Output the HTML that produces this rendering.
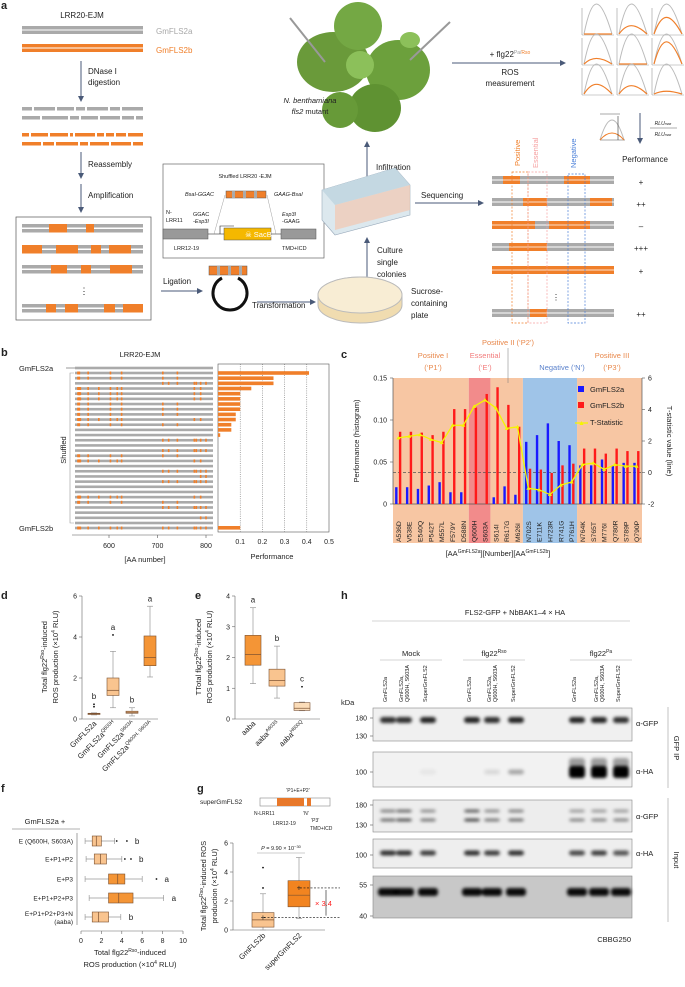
<!DOCTYPE html>
<html><head><meta charset="utf-8">
<style>
html,body{margin:0;padding:0;background:#fff;}
svg{display:block;font-family:"Liberation Sans",sans-serif;}
text{fill:#222;}
</style></head>
<body>
<svg id="fig" width="685" height="987" viewBox="0 0 685 987" xmlns="http://www.w3.org/2000/svg">
<defs>
<filter id="blur1"><feGaussianBlur stdDeviation="1.6"/></filter>
<filter id="blur2"><feGaussianBlur stdDeviation="3"/></filter>
<marker id="arr" markerWidth="6" markerHeight="6" refX="5" refY="3" orient="auto"><path d="M0,0 L6,3 L0,6 z" fill="#4a5a78"/></marker>
</defs>

<!-- ============ PANEL A ============ -->
<g>
<text x="1" y="9" font-size="11" font-weight="bold">a</text>
<text x="82" y="18" font-size="8" text-anchor="middle">LRR20-EJM</text>
<g><rect x="22" y="26" width="121" height="3.5" fill="#aaa"/><rect x="22" y="30.5" width="121" height="3.5" fill="#aaa"/></g>
<text x="156" y="34" font-size="8" style="fill:#a8a8a8">GmFLS2a</text>
<g><rect x="22" y="44" width="121" height="3.5" fill="#f07f2a"/><rect x="22" y="48.5" width="121" height="3.5" fill="#f07f2a"/></g>
<text x="156" y="53" font-size="8" style="fill:#f07f2a">GmFLS2b</text>
<line x1="81" y1="61" x2="81" y2="101" stroke="#4a5a78" stroke-width="1" marker-end="url(#arr)"/>
<text x="88" y="74" font-size="8">DNase I</text>
<text x="88" y="85" font-size="8">digestion</text>
<g fill="#aaa">
<rect x="22" y="107" width="10" height="3.5"/><rect x="34" y="107" width="21" height="3.5"/><rect x="57" y="107" width="17" height="3.5"/><rect x="76" y="107" width="9" height="3.5"/><rect x="87" y="107" width="21" height="3.5"/><rect x="110" y="107" width="10" height="3.5"/><rect x="122" y="107" width="21" height="3.5"/>
<rect x="22" y="116" width="18" height="3.5"/><rect x="42" y="116" width="26" height="3.5"/><rect x="70" y="116" width="9" height="3.5"/><rect x="81" y="116" width="17" height="3.5"/><rect x="100" y="116" width="20" height="3.5"/><rect x="122" y="116" width="12" height="3.5"/><rect x="136" y="116" width="7" height="3.5"/>
</g>
<g fill="#f07f2a">
<rect x="22" y="133" width="7" height="3.5"/><rect x="31" y="133" width="17" height="3.5"/><rect x="50" y="133" width="18" height="3.5"/><rect x="70" y="133" width="3" height="3.5"/><rect x="75" y="133" width="20" height="3.5"/><rect x="97" y="133" width="7" height="3.5"/><rect x="106" y="133" width="8" height="3.5"/><rect x="116" y="133" width="10" height="3.5"/><rect x="128" y="133" width="15" height="3.5"/>
<rect x="22" y="142" width="19" height="3.5"/><rect x="43" y="142" width="11" height="3.5"/><rect x="56" y="142" width="22" height="3.5"/><rect x="80" y="142" width="8" height="3.5"/><rect x="90" y="142" width="19" height="3.5"/><rect x="111" y="142" width="20" height="3.5"/><rect x="133" y="142" width="10" height="3.5"/>
</g>
<line x1="81" y1="152" x2="81" y2="178" stroke="#4a5a78" marker-end="url(#arr)"/>
<text x="88" y="167" font-size="8">Reassembly</text>
<line x1="81" y1="184" x2="81" y2="212" stroke="#4a5a78" marker-end="url(#arr)"/>
<text x="88" y="198" font-size="8">Amplification</text>
<rect x="16" y="217" width="135" height="103" fill="none" stroke="#555" stroke-width="0.7"/>
<g>
<rect x="22" y="224" width="121" height="3.5" fill="#aaa"/><rect x="22" y="229" width="121" height="3.5" fill="#aaa"/><rect x="49" y="224" width="18" height="8.5" fill="#f07f2a"/><rect x="86" y="224" width="8" height="8.5" fill="#f07f2a"/>
<rect x="22" y="245" width="121" height="3.5" fill="#aaa"/><rect x="22" y="250" width="121" height="3.5" fill="#aaa"/><rect x="22" y="245" width="20" height="8.5" fill="#f07f2a"/><rect x="56" y="245" width="22" height="8.5" fill="#f07f2a"/><rect x="91" y="245" width="10" height="8.5" fill="#f07f2a"/><rect x="109" y="245" width="22" height="8.5" fill="#f07f2a"/>
<rect x="22" y="265" width="121" height="3.5" fill="#aaa"/><rect x="22" y="270" width="121" height="3.5" fill="#aaa"/><rect x="51" y="265" width="16" height="8.5" fill="#f07f2a"/><rect x="81" y="265" width="10" height="8.5" fill="#f07f2a"/><rect x="110" y="265" width="22" height="8.5" fill="#f07f2a"/>
<text x="84" y="294" font-size="9" text-anchor="middle">⋮</text>
<rect x="22" y="304" width="121" height="3.5" fill="#aaa"/><rect x="22" y="309" width="121" height="3.5" fill="#aaa"/><rect x="46" y="304" width="10" height="8.5" fill="#f07f2a"/><rect x="65" y="304" width="13" height="8.5" fill="#f07f2a"/><rect x="104" y="304" width="11" height="8.5" fill="#f07f2a"/><rect x="123" y="304" width="20" height="8.5" fill="#f07f2a"/>
</g>
<rect x="163" y="164" width="161" height="94" fill="#fff" stroke="#666" stroke-width="0.7"/>
<g font-size="5.5">
<text x="245" y="178" text-anchor="middle">Shuffled LRR20 -EJM</text>
<rect x="226" y="191" width="40" height="7" fill="#f07f2a" stroke="#555" stroke-width="0.5"/><rect x="232" y="191" width="3" height="7" fill="#aaa"/><rect x="243" y="191" width="3" height="7" fill="#aaa"/><rect x="254" y="191" width="3" height="7" fill="#aaa"/>
<text x="185" y="196" font-style="italic">BsaI-GGAC</text><text x="274" y="196" font-style="italic">GAAG-BsaI</text>
<text x="166" y="214">N-</text><text x="166" y="222">LRR11</text>
<text x="193" y="216">GGAC</text><text x="193" y="223" font-style="italic">-Esp3I</text>
<text x="282" y="216" font-style="italic">Esp3I</text><text x="282" y="223">-GAAG</text>
<rect x="163" y="229" width="45" height="10" fill="#999" stroke="#555" stroke-width="0.5"/>
<rect x="224" y="228" width="47" height="12" fill="#f5b800" stroke="#555" stroke-width="0.5"/><text x="245" y="237" font-size="7.5" style="fill:#fff">☠ SacB</text>
<rect x="281" y="229" width="35" height="10" fill="#999" stroke="#555" stroke-width="0.5"/>
<line x1="208" y1="234" x2="224" y2="234" stroke="#333" stroke-width="0.6"/><line x1="271" y1="234" x2="281" y2="234" stroke="#333" stroke-width="0.6"/>
<path d="M220,234 v-8 h14" fill="none" stroke="#222" stroke-width="0.6"/>
<line x1="214" y1="234" x2="225" y2="195" stroke="#888" stroke-width="0.4"/><line x1="276" y1="234" x2="267" y2="195" stroke="#888" stroke-width="0.4"/>
<text x="174" y="250">LRR12-19</text><text x="282" y="250">TMD+ICD</text>
</g>
<text x="163" y="284" font-size="8">Ligation</text>
<line x1="161" y1="291" x2="202" y2="291" stroke="#4a5a78" marker-end="url(#arr)"/>
<g>
<rect x="209" y="266" width="38" height="9" fill="#f07f2a" stroke="#555" stroke-width="0.5"/><rect x="217" y="266" width="3" height="9" fill="#aaa"/><rect x="228" y="266" width="3" height="9" fill="#aaa"/><rect x="239" y="266" width="3" height="9" fill="#aaa"/>
<path d="M222,278 A17,17 0 1 0 238,278" fill="none" stroke="#111" stroke-width="3"/>
</g>
<line x1="257" y1="302" x2="315" y2="302" stroke="#4a5a78" marker-end="url(#arr)"/>
<text x="252" y="308" font-size="8">Transformation</text>

<g>
<ellipse cx="333" cy="62" rx="36" ry="30" fill="#6a9a3a"/><ellipse cx="398" cy="70" rx="32" ry="30" fill="#6ca03c"/>
<ellipse cx="358" cy="26" rx="24" ry="24" fill="#74a844"/><ellipse cx="375" cy="108" rx="26" ry="24" fill="#5f9232"/>
<ellipse cx="340" cy="110" rx="18" ry="18" fill="#679a38"/>
<ellipse cx="360" cy="65" rx="14" ry="14" fill="#8cc05a"/><ellipse cx="410" cy="40" rx="10" ry="8" fill="#8cc05a"/>
<line x1="290" y1="18" x2="325" y2="62" stroke="#999" stroke-width="2"/><line x1="450" y1="22" x2="410" y2="60" stroke="#999" stroke-width="2"/>
<text x="310" y="103" font-size="7.5" font-style="italic" text-anchor="middle">N. benthamiana</text>
<text x="310" y="114" font-size="7.5" text-anchor="middle"><tspan font-style="italic">fls2</tspan> mutant</text>
</g>
<line x1="452" y1="63" x2="565" y2="63" stroke="#4a5a78" marker-end="url(#arr)"/>
<text x="510" y="57" font-size="8" text-anchor="middle">+ flg22<tspan font-size="5" dy="-3" style="fill:#999">Pa</tspan><tspan font-size="5" style="fill:#999">/</tspan><tspan font-size="5" style="fill:#f07f2a">Rso</tspan></text>
<text x="510" y="75" font-size="8" text-anchor="middle">ROS</text>
<text x="510" y="86" font-size="8" text-anchor="middle">measurement</text>
<g id="rosgrid"></g>
<g>
<line x1="600" y1="114" x2="620" y2="114" stroke="#555" stroke-width="0.5"/><line x1="600" y1="140" x2="625" y2="140" stroke="#555" stroke-width="0.5"/>
<path d="M600,140 Q612,100 624,140" fill="none" stroke="#bbb"/><path d="M600,140 Q612,126 624,140" fill="none" stroke="#f07f2a"/>
<line x1="618" y1="140" x2="618" y2="116" stroke="#333" stroke-width="0.6"/>
<line x1="640" y1="113" x2="640" y2="143" stroke="#4a5a78" marker-end="url(#arr)"/>
<text x="663" y="125" font-size="5" font-style="italic" text-anchor="middle">RLU<tspan font-size="3.5">max</tspan></text>
<line x1="650" y1="128" x2="677" y2="128" stroke="#333" stroke-width="0.4"/>
<text x="663" y="136" font-size="5" font-style="italic" text-anchor="middle">RLU<tspan font-size="3.5">max</tspan></text>
<text x="645" y="162" font-size="8" text-anchor="middle">Performance</text>
</g>
<line x1="367" y1="198" x2="367" y2="142" stroke="#4a5a78" marker-end="url(#arr)"/>
<text x="376" y="170" font-size="8">Infiltration</text>
<g>
<path d="M322,190 L395,168 L410,185 L410,215 L335,235 L322,220 z" fill="#dce8ee" stroke="#9ab" stroke-width="0.6"/>
<path d="M322,190 L395,168 L410,185 L335,205 z" fill="#c4d8e2"/>
<path d="M335,205 L410,185 L410,210 L335,230 z" fill="#f2c8b0" opacity="0.7"/>
</g>
<line x1="415" y1="203" x2="483" y2="203" stroke="#4a5a78" marker-end="url(#arr)"/>
<text x="421" y="198" font-size="8">Sequencing</text>
<line x1="367" y1="290" x2="367" y2="238" stroke="#4a5a78" marker-end="url(#arr)"/>
<text x="377" y="253" font-size="8">Culture</text>
<text x="377" y="265" font-size="8">single</text>
<text x="377" y="277" font-size="8">colonies</text>
<g><ellipse cx="360" cy="295" rx="42" ry="18" fill="#f6e8c8" stroke="#bbb"/><path d="M318,295 v10 a42,18 0 0 0 84,0 v-10" fill="#f0dcb0" stroke="#bbb"/><ellipse cx="360" cy="295" rx="42" ry="18" fill="#f8edd4" stroke="#bbb"/></g>
<text x="411" y="294" font-size="8">Sucrose-</text>
<text x="411" y="306" font-size="8">containing</text>
<text x="411" y="318" font-size="8">plate</text>
<g id="seqrows"></g>
<g fill="none" stroke-dasharray="2,1.5" stroke-width="0.7">
<rect x="512" y="172" width="16" height="151" stroke="#f07f2a"/>
<rect x="528" y="172" width="19" height="151" stroke="#f6a0a0"/>
<rect x="568" y="174" width="17" height="149" stroke="#4a7fd8"/>
<text x="520" y="166" font-size="7.5" transform="rotate(-90 520 166)" style="fill:#f07f2a" stroke="none">Positive</text>
<text x="538" y="168" font-size="7.5" transform="rotate(-90 538 168)" style="fill:#f6a0a0" stroke="none">Essential</text>
<text x="576" y="168" font-size="7.5" transform="rotate(-90 576 168)" style="fill:#4a7fd8" stroke="none">Negative</text>
</g>
<g font-size="8" text-anchor="middle">
<text x="641" y="185">+</text><text x="641" y="207">++</text><text x="641" y="229">–</text><text x="641" y="251">+++</text><text x="641" y="274">+</text><text x="556" y="300">⋮</text><text x="641" y="317">++</text>
</g>
</g>

<!-- ============ PANEL B ============ -->
<g id="panelb">
<text x="1" y="356" font-size="11" font-weight="bold">b</text>
<text x="140" y="357" font-size="7.5" text-anchor="middle">LRR20-EJM</text>
<text x="19" y="371" font-size="7.5">GmFLS2a</text>
<text x="19" y="531" font-size="7.5">GmFLS2b</text>
<text x="66" y="450" font-size="7.5" text-anchor="middle" transform="rotate(-90 66 450)">Shuffled</text>
<path d="M74,373 H70 V523 H74" fill="none" stroke="#999" stroke-width="0.6"/>
<text x="145" y="562" font-size="7.5" text-anchor="middle">[AA number]</text>
<text x="272" y="559" font-size="7.5" text-anchor="middle">Performance</text>
</g>

<!-- ============ PANEL C ============ -->
<g id="panelc">
<text x="341" y="358" font-size="11" font-weight="bold">c</text>
</g>

<!-- ============ PANELS D-G ============ -->
<g id="paneldg">
<text x="1" y="599" font-size="11" font-weight="bold">d</text>
<text x="195" y="599" font-size="11" font-weight="bold">e</text>
<text x="1" y="792" font-size="11" font-weight="bold">f</text>
<text x="197" y="792" font-size="11" font-weight="bold">g</text>
</g>

<!-- ============ PANEL H ============ -->
<g id="panelh">
<text x="341" y="599" font-size="11" font-weight="bold">h</text>
<text x="515" y="615" font-size="7.5" text-anchor="middle">FLS2-GFP + NbBAK1–4 × HA</text>
<line x1="372" y1="621" x2="630" y2="621" stroke="#aaa" stroke-width="0.6"/>
<text x="411" y="656" font-size="7.5" text-anchor="middle">Mock</text>
<text x="494" y="656" font-size="7.5" text-anchor="middle">flg22<tspan font-size="5" dy="-3">Rso</tspan></text>
<text x="601" y="656" font-size="7.5" text-anchor="middle">flg22<tspan font-size="5" dy="-3">Pa</tspan></text>
<line x1="380" y1="660" x2="442" y2="660" stroke="#aaa" stroke-width="0.6"/><line x1="463" y1="660" x2="525" y2="660" stroke="#aaa" stroke-width="0.6"/><line x1="570" y1="660" x2="632" y2="660" stroke="#aaa" stroke-width="0.6"/>
<text x="341" y="705" font-size="7.5">kDa</text>
<line x1="668" y1="707" x2="668" y2="788" stroke="#aaa" stroke-width="0.7"/>
<line x1="668" y1="798" x2="668" y2="922" stroke="#aaa" stroke-width="0.7"/>
<text x="674" y="748" font-size="7.5" text-anchor="middle" transform="rotate(90 674 748)">GFP IP</text>
<text x="674" y="860" font-size="7.5" text-anchor="middle" transform="rotate(90 674 860)">Input</text>
<text x="631" y="942" font-size="7.5" text-anchor="end">CBBG250</text>
</g>

</svg>
<script>
const NS="http://www.w3.org/2000/svg";
function el(tag,a,p){const e=document.createElementNS(NS,tag);for(const k in a)e.setAttribute(k,a[k]);p.appendChild(e);return e;}
function tx(s,a,p){const e=el('text',a,p);e.textContent=s;return e;}

/* ---------- Panel a: ROS grid & sequencing rows ---------- */
const rosAmps=[0,0.3,0.6,0.2,0,0.8,0.35,0.3,0.1];
(function(){
 const g=document.getElementById('rosgrid');
 rosAmps.forEach((amp,i)=>{
  const c=i%3,r=Math.floor(i/3);const x=582+c*35,y=8+r*30,w=32,h=27;
  const box=el('g',{},g);
  
  
  el('line',{x1:x,y1:y+h,x2:x+w,y2:y+h,stroke:'#999','stroke-width':0.6},box);
  el('line',{x1:x,y1:y,x2:x,y2:y+h,stroke:'#999','stroke-width':0.6},box);
  el('path',{d:`M${x+2},${y+h-1} C${x+10},${y-14} ${x+18},${y-14} ${x+w-2},${y+h-1}`,fill:'none',stroke:'#bbb','stroke-width':1},box);
  const top=y+h-1-amp*(h+10);
  el('path',{d:`M${x+2},${y+h-1} C${x+10},${top} ${x+18},${top} ${x+w-2},${y+h-1}`,fill:'none',stroke:'#f07f2a','stroke-width':1.2},box);
 });
})();
const seqRowsY=[180,202,225,247,270,313];
const seqOrange=[[[503,520],[564,590]],[[523,547],[590,612]],[[492,535],[549,590]],[[509,547]],[[492,614]],[[530,547]]];
(function(){
 const g=document.getElementById('seqrows');
 seqRowsY.forEach((y,i)=>{
  const r=el('g',{},g);
  
  
  el('rect',{x:492,y:y-4,width:122,height:3.5,fill:'#aaa'},r);
  el('rect',{x:492,y:y+0.5,width:122,height:3.5,fill:'#aaa'},r);
  seqOrange[i].forEach(s=>{el('rect',{x:s[0],y:y-4,width:s[1]-s[0],height:8,fill:'#f07f2a'},r);el('line',{x1:s[0],y1:y,x2:s[1],y2:y,stroke:'#fff','stroke-width':0.8},r);});
 });
})();

/* ---------- Panel b ---------- */
const bPerf=[0.41,0.25,0.25,0.15,0.1,0.1,0.1,0.1,0.08,0.08,0.06,0.06,0.01,0,0,0,0,0,0,0,0,0,0,0,0,0,0,0,0,0];
const bGmFLS2bPerf=0.1;
const bLeftMarks=[536,538,557,579,603,617,626];
const bRightMarks=[711,723,741,776,780,789,800];
const bRowPattern=[3,3,2,1,1,1,3,3,3,1,3,0,0,2,0,2,3,1,0,2,4,2,0,0,1,3,2,0,4,0];
const bAxisTicks=[600,700,800];
const bPerfTicks=[0.1,0.2,0.3,0.4,0.5];
(function(){
 const g=document.getElementById('panelb');
 const xA=a=>109+(a-600)*0.485;
 const xP=v=>218+v*222;
 const yRow=i=>373+i*(150/29);
 el('rect',{x:218,y:364,width:111,height:168,fill:'none',stroke:'#555','stroke-width':0.6},g);
 bPerfTicks.forEach(t=>{
  if(t<0.5) el('line',{x1:xP(t),y1:364,x2:xP(t),y2:532,stroke:'#555','stroke-width':0.5,'stroke-dasharray':'1,1.2'},g);
  const tk=tx(String(t),{x:xP(t),y:544,'font-size':7,'text-anchor':'middle'},g);
  
  
 });
 el('line',{x1:72,y1:535,x2:213,y2:535,stroke:'#555','stroke-width':0.6},g);
 bAxisTicks.forEach(t=>{
  el('line',{x1:xA(t),y1:535,x2:xA(t),y2:538,stroke:'#555','stroke-width':0.6},g);
  const tk=tx(String(t),{x:xA(t),y:548,'font-size':7,'text-anchor':'middle'},g);
  
  
 });
 function row(y,marks,full){
  const r=el('g',{},g);
  
  
  el('rect',{x:75,y:y-1.3,width:138,height:2.6,fill:'#aaa'},r);
  marks.forEach(a=>el('rect',{x:xA(a)-0.8,y:y-1.5,width:a<540?3:1.6,height:3,fill:'#f07f2a'},r));
 }
 row(368,[],false);
 el('line',{x1:66,y1:368,x2:75,y2:368,stroke:'#555','stroke-width':0.6},g);
 bRowPattern.forEach((p,i)=>{
  let m=[];
  if(p==1) m=bLeftMarks.concat([776,789]);
  else if(p==2) m=bRightMarks;
  else if(p==3) m=[536,557,603,626,711,741];
  else if(p==4) m=[789,800];
  row(yRow(i),m,false);
 });
 row(528,bLeftMarks.concat(bRightMarks),true);
 bPerf.forEach((v,i)=>{
  if(v<=0) return;
  const b=el('rect',{x:xP(0),y:yRow(i)-1.8,width:v*222,height:3.6,fill:'#f07f2a'},g);
  
  
 });
 const bb=el('rect',{x:xP(0),y:526,width:bGmFLS2bPerf*222,height:3.6,fill:'#f07f2a'},g);
 
 
})();

/* ---------- Panel c ---------- */
const cCats=["A536D","V538E","E540Q","P542T","M557L","F579Y","D588N","Q600H","S603A","S614I","R617G","M626I","N702S","E711K","H723R","R741G","P761H","N764K","S765T","M776I","Q780R","S789P","Q790P"];
const cGmFLS2a=[0.02,0.02,0.018,0.022,0.026,0.014,0.014,0,0,0.008,0.021,0.011,0.074,0.082,0.096,0.075,0.07,0.046,0.046,0.053,0.046,0.049,0.049];
const cGmFLS2b=[0.086,0.086,0.085,0.082,0.086,0.113,0.113,0.115,0.131,0.139,0.118,0.092,0.042,0.041,0.037,0.046,0.048,0.066,0.066,0.06,0.066,0.063,0.063];
const cTstat=[2.2,2.3,2.4,2.1,1.9,3.0,3.0,4.2,4.6,4.1,2.8,2.9,-1.0,-1.1,-1.4,-0.8,-0.6,0.5,0.6,0.2,0.5,0.4,0.4];
const cLeftTicks=[0,0.05,0.10,0.15];
const cLeftTickLabels=["0","0.05","0.10","0.15"];
const cRightTicks=[-2,0,2,4,6];
(function(){
 const g=document.getElementById('panelc');
 const X0=393,X1=642,Y0=504,Y1=378,n=cCats.length,step=(X1-X0)/n;
 const xC=i=>X0+(i+0.5)*step;
 const yL=v=>Y0-(v/0.15)*(Y0-Y1);
 const yR=t=>Y0-((t+2)/8)*(Y0-Y1);
 const bands=[[0,7,'#f7c6a3'],[7,9,'#f28b8b'],[9,12,'#f7c6a3'],[12,17,'#9fc4e8'],[17,23,'#f7c6a3']];
 bands.forEach(b=>{
  const r=el('rect',{x:X0+b[0]*step,y:Y1,width:(b[1]-b[0])*step,height:543-Y1,fill:b[2]},g);
  
  
 });
 el('line',{x1:X0,y1:Y1,x2:X0,y2:Y0,stroke:'#555','stroke-width':0.7},g);
 el('line',{x1:X1,y1:Y1,x2:X1,y2:Y0,stroke:'#555','stroke-width':0.7},g);
 el('line',{x1:X0,y1:Y0,x2:X1,y2:Y0,stroke:'#555','stroke-width':0.7},g);
 el('line',{x1:X0,y1:yR(0),x2:X1,y2:yR(0),stroke:'#555','stroke-width':0.7,'stroke-dasharray':'3,2'},g);
 cLeftTicks.forEach((t,i)=>{
  el('line',{x1:X0-3,y1:yL(t),x2:X0,y2:yL(t),stroke:'#555','stroke-width':0.6},g);
  const tk=tx(cLeftTickLabels[i],{x:X0-6,y:yL(t)+2.5,'font-size':7,'text-anchor':'end'},g);
  
  
 });
 cRightTicks.forEach(t=>{
  el('line',{x1:X1,y1:yR(t),x2:X1+3,y2:yR(t),stroke:'#555','stroke-width':0.6},g);
  const tk=tx(String(t),{x:X1+6,y:yR(t)+2.5,'font-size':7},g);
  
  
 });
 cCats.forEach((c,i)=>{
  if(cGmFLS2a[i]>0){
   const b=el('rect',{x:xC(i)-3.3,y:yL(cGmFLS2a[i]),width:2.4,height:Y0-yL(cGmFLS2a[i]),fill:'#1a1aff'},g);
   
   
  }
  const r=el('rect',{x:xC(i)+0.5,y:yL(cGmFLS2b[i]),width:2.4,height:Y0-yL(cGmFLS2b[i]),fill:'#ff1a1a'},g);
  
  
  const lb=tx(c,{x:0,y:0,'font-size':6.8,transform:`translate(${xC(i)+2.5},542) rotate(-90)`},g);
  
  
 });
 const pts=cTstat.map((t,i)=>xC(i)+','+yR(t)).join(' ');
 const ln=el('polyline',{points:pts,fill:'none',stroke:'#f5f500','stroke-width':1.3},g);
 
 
 cTstat.forEach((t,i)=>{
  const m=el('path',{d:`M${xC(i)-2},${yR(t)+1.5} L${xC(i)},${yR(t)-2} L${xC(i)+2},${yR(t)+1.5} z`,fill:'#f5f500'},g);
  
  
 });
 const lg=el('g',{},g);
 
 
 el('rect',{x:578,y:386,width:6,height:6,fill:'#1a1aff'},lg);tx('GmFLS2a',{x:590,y:392,'font-size':7.5},lg);
 el('rect',{x:578,y:402,width:6,height:6,fill:'#ff1a1a'},lg);tx('GmFLS2b',{x:590,y:408,'font-size':7.5},lg);
 el('line',{x1:575,y1:423,x2:588,y2:423,stroke:'#f5f500','stroke-width':1.3},lg);
 el('path',{d:'M579.5,425 L581.5,421 L583.5,425 z',fill:'#f5f500'},lg);
 tx('T-Statistic',{x:590,y:425,'font-size':7.5},lg);
 const titles=[["Positive I",433,358,'#e8874a'],["(‘P1’)",433,370,'#e8874a'],["Essential",485,358,'#f27c7c'],["(‘E’)",485,370,'#f27c7c'],["Positive II (‘P2’)",508,345,'#e8874a'],["Negative (‘N’)",562,370,'#5b82cc'],["Positive III",612,358,'#e8874a'],["(‘P3’)",612,370,'#e8874a']];
 titles.forEach(t=>{const e=tx(t[0],{x:t[1],y:t[2],'font-size':7.5,'text-anchor':'middle',style:'fill:'+t[3]},g);
  
  });
 el('line',{x1:508,y1:348,x2:508,y2:383,stroke:'#777','stroke-width':0.5},g);
 const yt=tx('Performance (histogram)',{x:0,y:0,'font-size':7.5,'text-anchor':'middle',transform:'translate(359,441) rotate(-90)'},g);
 
 
 const yt2=tx('T-statistic value (line)',{x:0,y:0,'font-size':7.5,'text-anchor':'middle',transform:'translate(667,441) rotate(90)'},g);
 
 
 const xt=el('text',{x:498,y:556,'font-size':7.5,'text-anchor':'middle'},g);
 xt.innerHTML='[AA<tspan font-size="5" dy="-3">GmFLS2a</tspan><tspan dy="3">][Number][AA</tspan><tspan font-size="5" dy="-3">GmFLS2b</tspan><tspan dy="3">]</tspan>';
 
 
})();

/* ---------- Panels d-g ---------- */
const dNames=["GmFLS2a","GmFLS2a","GmFLS2a","GmFLS2a"];
const dSups=["","Q600H","S603A","Q600H, S603A"];
const dStats=[[0.2,0.22,0.25,0.28,0.3],[0.55,1.15,1.4,2.0,3.3],[0.15,0.28,0.33,0.38,0.55],[2.05,2.6,3.0,4.05,5.5]];
const dOutliers=[[0.6,0.72],[4.1],[],[]];
const dLetters=["b","a","b","a"];
const eNames=["aaba","aaba","aaba"];
const eSups=["","A603S","H600Q"];
const eStats=[[1.15,1.75,2.1,2.72,3.62],[0.68,1.07,1.25,1.62,2.37],[0.27,0.28,0.35,0.53,0.55]];
const eOutliers=[[],[],[1.05]];
const eLetters=["a","b","c"];
const fNames=["E (Q600H, S603A)","E+P1+P2","E+P3","E+P1+P2+P3","E+P1+P2+P3+N"];
const fStats=[[0.4,1.1,1.5,2.0,3.3],[0.5,1.3,1.9,2.5,4.0],[0.4,2.7,3.6,4.3,6.0],[0.8,2.7,3.7,5.1,8.1],[0.4,1.1,1.7,2.7,3.9]];
const fOutliers=[[3.5,4.5],[4.3,4.9],[7.4],[],[]];
const fLetters=["b","b","a","a","b"];
const gNames=["GmFLS2b","superGmFLS2"];
const gStats=[[0.0,0.2,0.7,1.2,2.5],[0.8,1.6,2.4,3.4,5.0]];
const gMeans=[0.85,2.9];
const gOutliers=[[2.9,4.3],[]];
(function(){
 const g=document.getElementById('paneldg');
 const BR='#7a5030';
 function vbox(x,s,ys,fill,w,outs){
  const b=el('g',{},g);
  
  
  el('line',{x1:x,y1:ys(s[0]),x2:x,y2:ys(s[4]),stroke:'#999','stroke-width':0.7},b);
  el('line',{x1:x-3,y1:ys(s[4]),x2:x+3,y2:ys(s[4]),stroke:'#999','stroke-width':0.7},b);
  el('line',{x1:x-3,y1:ys(s[0]),x2:x+3,y2:ys(s[0]),stroke:'#999','stroke-width':0.7},b);
  el('rect',{x:x-w/2,y:ys(s[3]),width:w,height:Math.max(1,ys(s[1])-ys(s[3])),fill:fill,stroke:BR,'stroke-width':0.6},b);
  el('line',{x1:x-w/2,y1:ys(s[2]),x2:x+w/2,y2:ys(s[2]),stroke:BR,'stroke-width':0.7},b);
  outs.forEach((o,k)=>el('circle',{cx:x,cy:ys(o),r:0.9,fill:'#111'},b));
  return b;
 }
 function axisV(x,yb,yt,ticks,ys){
  el('line',{x1:x,y1:yt,x2:x,y2:yb,stroke:'#666','stroke-width':0.6},g);
  ticks.forEach(t=>{el('line',{x1:x-3,y1:ys(t),x2:x,y2:ys(t),stroke:'#666','stroke-width':0.6},g);
   const k=tx(String(t),{x:x-5,y:ys(t)+2.5,'font-size':7,'text-anchor':'end'},g);
   
   });
 }
 const yd=v=>719-v/6*123;
 axisV(82,719,596,[0,2,4,6],yd);
 el('line',{x1:82,y1:719,x2:158,y2:719,stroke:'#666','stroke-width':0.6},g);
 const dX=[94,113,132,150];const dFill=['#f9cfa0','#f9c48f','#f9c48f','#f49536'];
 dStats.forEach((s,i)=>{vbox(dX[i],s,yd,dFill[i],12,dOutliers[i]);
  const mx=Math.max(s[4],...(dOutliers[i].length?dOutliers[i]:[0]));
  const l=tx(dLetters[i],{x:dX[i],y:yd(mx)-5,'font-size':8,'text-anchor':'middle'},g);
  
  
  const n=el('text',{x:0,y:0,'font-size':7.5,'text-anchor':'end',transform:`translate(${dX[i]+3},724) rotate(-45)`},g);
  n.innerHTML=dNames[i]+'<tspan font-size="5" dy="-3">'+dSups[i]+'</tspan>';
  
  });
 tx('',{x:0,y:0,'font-size':7.5,'text-anchor':'middle',transform:'translate(47,657) rotate(-90)'},g).innerHTML='Total flg22<tspan font-size="5" dy="-3">Rso</tspan><tspan dy="3">-induced</tspan>';
 tx('',{x:0,y:0,'font-size':7.5,'text-anchor':'middle',transform:'translate(58,657) rotate(-90)'},g).innerHTML='ROS production (×10<tspan font-size="5" dy="-3">4</tspan><tspan dy="3"> RLU)</tspan>';
 const ye=v=>719-v/4*123;
 axisV(235,719,596,[0,1,2,3,4],ye);
 el('line',{x1:235,y1:719,x2:320,y2:719,stroke:'#666','stroke-width':0.6},g);
 const eX=[253,277,302];const eFill=['#f49536','#f9c48f','#fbdcb8'];
 eStats.forEach((s,i)=>{vbox(eX[i],s,ye,eFill[i],16,eOutliers[i]);
  const l=tx(eLetters[i],{x:eX[i],y:ye(Math.max(s[4],...(eOutliers[i].length?eOutliers[i]:[0])))-5,'font-size':8,'text-anchor':'middle'},g);
  
  
  const n=el('text',{x:0,y:0,'font-size':7.5,'text-anchor':'end',transform:`translate(${eX[i]+3},724) rotate(-45)`},g);
  n.innerHTML=eNames[i]+'<tspan font-size="5" dy="-3">'+eSups[i]+'</tspan>';
  
  });
 tx('',{x:0,y:0,'font-size':7.5,'text-anchor':'middle',transform:'translate(201,657) rotate(-90)'},g).innerHTML='TTotal flg22<tspan font-size="5" dy="-3">Rso</tspan><tspan dy="3">-induced</tspan>';
 tx('',{x:0,y:0,'font-size':7.5,'text-anchor':'middle',transform:'translate(212,657) rotate(-90)'},g).innerHTML='ROS production (×10<tspan font-size="5" dy="-3">4</tspan><tspan dy="3"> RLU)</tspan>';
 const xf=v=>81+v/10*102;
 const fY=[841,859,879,898,917];const fFill=['#f9c48f','#f9c48f','#f49536','#f49536','#f9c48f'];
 tx('GmFLS2a +',{x:45,y:824,'font-size':7.5,'text-anchor':'middle'},g);
 el('line',{x1:12,y1:829,x2:80,y2:829,stroke:'#666','stroke-width':0.6},g);
 el('line',{x1:77,y1:833,x2:77,y2:925,stroke:'#666','stroke-width':0.6},g);
 el('line',{x1:81,y1:931,x2:183,y2:931,stroke:'#666','stroke-width':0.6},g);
 [0,2,4,6,8,10].forEach(t=>{el('line',{x1:xf(t),y1:931,x2:xf(t),y2:934,stroke:'#666','stroke-width':0.6},g);
  const k=tx(String(t),{x:xf(t),y:943,'font-size':7,'text-anchor':'middle'},g);
  
  });
 fStats.forEach((s,i)=>{
  const y=fY[i];const b=el('g',{},g);
  
  
  el('line',{x1:xf(s[0]),y1:y,x2:xf(s[4]),y2:y,stroke:'#999','stroke-width':0.7},b);
  el('line',{x1:xf(s[0]),y1:y-3,x2:xf(s[0]),y2:y+3,stroke:'#999','stroke-width':0.7},b);
  el('line',{x1:xf(s[4]),y1:y-3,x2:xf(s[4]),y2:y+3,stroke:'#999','stroke-width':0.7},b);
  el('rect',{x:xf(s[1]),y:y-5,width:xf(s[3])-xf(s[1]),height:10,fill:fFill[i],stroke:BR,'stroke-width':0.6},b);
  el('line',{x1:xf(s[2]),y1:y-5,x2:xf(s[2]),y2:y+5,stroke:BR,'stroke-width':0.7},b);
  fOutliers[i].forEach(o=>el('circle',{cx:xf(o),cy:y,r:0.9,fill:'#111'},b));
  const mx=Math.max(s[4],...(fOutliers[i].length?fOutliers[i]:[0]));
  const l=tx(fLetters[i],{x:xf(mx)+8,y:y+3,'font-size':8},g);
  
  
  const n=tx(fNames[i],{x:73,y:i==4?y-1:y+2.5,'font-size':6.5,'text-anchor':'end'},g);
  
  
 });
 tx('(aaba)',{x:73,y:924,'font-size':6.5,'text-anchor':'end'},g);
 tx('',{x:130,y:955,'font-size':7.5,'text-anchor':'middle'},g).innerHTML='Total flg22<tspan font-size="5" dy="-3">Rso</tspan><tspan dy="3">-induced</tspan>';
 tx('',{x:130,y:967,'font-size':7.5,'text-anchor':'middle'},g).innerHTML='ROS production (×10<tspan font-size="5" dy="-3">4</tspan><tspan dy="3"> RLU)</tspan>';
 const yg=v=>930-v/6*87;
 axisV(233,930,843,[0,2,4,6],yg);
 el('line',{x1:233,y1:930,x2:325,y2:930,stroke:'#666','stroke-width':0.6},g);
 const gX=[263,299];const gFill=['#f9c48f','#f28420'];
 gStats.forEach((s,i)=>{vbox(gX[i],s,yg,gFill[i],22,gOutliers[i]);
  tx('+',{x:gX[i],y:yg(gMeans[i])+2.5,'font-size':8,'text-anchor':'middle'},g);
  const n=tx(gNames[i],{x:0,y:0,'font-size':7.5,'text-anchor':'end',transform:`translate(${gX[i]+3},936) rotate(-45)`},g);
  
  });
 el('line',{x1:264,y1:yg(gMeans[0]),x2:340,y2:yg(gMeans[0]),stroke:'#111','stroke-width':0.6,'stroke-dasharray':'2,1.5'},g);
 el('line',{x1:300,y1:yg(gMeans[1]),x2:340,y2:yg(gMeans[1]),stroke:'#111','stroke-width':0.6,'stroke-dasharray':'2,1.5'},g);
 el('line',{x1:326,y1:yg(gMeans[1])+2,x2:326,y2:yg(gMeans[0])-2,stroke:'#111','stroke-width':0.6},g);
 tx('× 3.4',{x:315,y:906,'font-size':7.5,style:'fill:#ff2020'},g);
 el('line',{x1:257,y1:853,x2:305,y2:853,stroke:'#999','stroke-width':0.6},g);
 tx('',{x:281,y:850,'font-size':5.5,'text-anchor':'middle'},g).innerHTML='<tspan font-style="italic">P</tspan> = 9.90 × 10<tspan font-size="4" dy="-2">−30</tspan>';
 tx('',{x:0,y:0,'font-size':7.5,'text-anchor':'middle',transform:'translate(206,886) rotate(-90)'},g).innerHTML='Total flg22<tspan font-size="5" dy="-3">Rso</tspan><tspan dy="3">-induced ROS</tspan>';
 tx('',{x:0,y:0,'font-size':7.5,'text-anchor':'middle',transform:'translate(217,886) rotate(-90)'},g).innerHTML='production (×10<tspan font-size="5" dy="-3">4</tspan><tspan dy="3"> RLU)</tspan>';
 tx('superGmFLS2',{x:200,y:804,'font-size':6.5},g);
 el('rect',{x:260,y:798,width:70,height:8,fill:'#fff',stroke:'#888','stroke-width':0.6},g);
 el('rect',{x:277,y:798,width:27,height:8,fill:'#e8782a'},g);
 el('rect',{x:307,y:798,width:4,height:8,fill:'#e8782a'},g);
 tx('‘P1+E+P2’',{x:298,y:792,'font-size':5,'text-anchor':'middle'},g);
 tx('N-LRR11',{x:254,y:815,'font-size':5},g);tx('LRR12-19',{x:273,y:825,'font-size':5},g);
 tx('‘N’',{x:303,y:815,'font-size':5},g);tx('‘P3’',{x:311,y:822,'font-size':5},g);tx('TMD+ICD',{x:310,y:830,'font-size':5},g);
})();

/* ---------- Panel h ---------- */
const hLaneX=[388,404,428,472,492,516,577,599,621];
const hLaneNames=["GmFLS2a","GmFLS2a, Q600H, S603A","SuperGmFLS2","GmFLS2a","GmFLS2a, Q600H, S603A","SuperGmFLS2","GmFLS2a","GmFLS2a, Q600H, S603A","SuperGmFLS2"];
const hIpGfp=[0.8,0.8,0.85,0.85,0.8,0.85,0.85,0.85,0.8];
const hIpHa=[0,0,0.05,0,0.1,0.3,1,1,1];
const hInGfp=[0.45,0.55,0.4,0.6,0.4,0.45,0.35,0.35,0.35];
const hInHa=[0.8,0.8,0.75,0.8,0.75,0.8,0.7,0.75,0.65];
const hMarkers=[[180,718],[130,736],[100,772],[180,805],[130,825],[100,855],[55,885],[40,916]];
(function(){
 const g=document.getElementById('panelh');
 hLaneNames.forEach((n,i)=>{
  const parts=n.split(', ');
  const lines=parts.length>1?[parts[0]+',',parts.slice(1).join(', ')]:[n];
  lines.forEach((s,k)=>{
   const t=tx(s,{x:0,y:0,'font-size':5.5,transform:`translate(${hLaneX[i]-1+k*6},702) rotate(-90)`},g);
   
   
  });
 });
 const boxes=[[708,741,'#f0f0f0'],[752,787,'#f2f2f2'],[800,832,'#ededed'],[839,868,'#eeeeee'],[876,918,'#c8c8c8']];
 boxes.forEach(b=>{const r=el('rect',{x:373,y:b[0],width:259,height:b[1]-b[0],fill:b[2],stroke:'#888','stroke-width':0.6},g);
  
  });
 const bg=el('g',{filter:'url(#blur1)'},g);
 function band(i,y,h,v,w){if(v<=0)return;
  const e=el('rect',{x:hLaneX[i]-(w||8),y:y-h/2,width:2*(w||8),height:h,rx:3,fill:'#000','fill-opacity':Math.min(1,v)},bg);
  
  }
 hLaneX.forEach((x,i)=>{
  band(i,720,6,hIpGfp[i]);
  band(i,772,hIpHa[i]>0.5?12:5,hIpHa[i]);
  if(hIpHa[i]>0.5) band(i,763,10,0.35);
  band(i,811,3,hInGfp[i]);band(i,820,3,hInGfp[i]+0.1);
  band(i,853,5,hInHa[i]);
  band(i,892,8,0.95,10);
 });
 hMarkers.forEach(m=>{el('line',{x1:370,y1:m[1],x2:373,y2:m[1],stroke:'#555','stroke-width':0.6},g);
  const t=tx(String(m[0]),{x:367,y:m[1]+2.5,'font-size':7,'text-anchor':'end'},g);
  
  });
 [['α-GFP',726],['α-HA',774],['α-GFP',819],['α-HA',856]].forEach(a=>{
  const t=tx(a[0],{x:636,y:a[1],'font-size':7.5},g);
  
  });
})();
</script>
</body></html>
